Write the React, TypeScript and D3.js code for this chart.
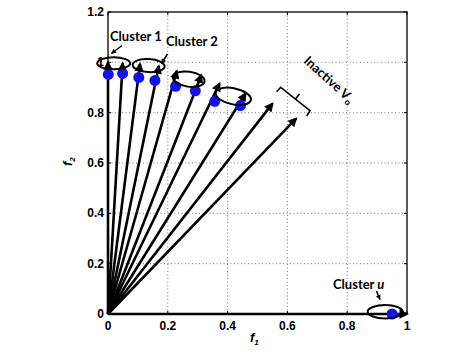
import React from 'react';
import * as d3 from 'd3';

// active reference vectors (arrow tips) and their solutions (dots)
const activeTips: [number, number][] = [
  [0.0, 1.0], [0.049, 0.996], [0.107, 0.994], [0.17, 0.985],
  [0.23, 0.965], [0.312, 0.949], [0.373, 0.916], [0.46, 0.876],
];
const activeDots: [number, number][] = [
  [0.001, 0.952], [0.049, 0.956], [0.103, 0.94], [0.157, 0.928],
  [0.226, 0.905], [0.292, 0.887], [0.357, 0.845], [0.443, 0.828],
];
const inactiveTips: [number, number][] = [[0.55, 0.836], [0.629, 0.776]];
const clusterUTip: [number, number] = [1.0, 0];
const clusterUDot: [number, number] = [0.95, 0];

const xTicks = [0, 0.2, 0.4, 0.6, 0.8, 1];
const yTicks = [0, 0.2, 0.4, 0.6, 0.8, 1, 1.2];
const gridX = [0.2, 0.4, 0.6, 0.8];
const gridY = [0.2, 0.4, 0.6, 0.8, 1.0];

// cluster ellipses: center (f1, f2), radii px, rotation
const ellipses = [
  { cx: 0.019, cy: 0.996, rx: 16.5, ry: 6, rot: 0 },
  { cx: 0.136, cy: 0.987, rx: 16, ry: 6.5, rot: 3 },
  { cx: 0.27, cy: 0.933, rx: 16, ry: 7.5, rot: 8 },
  { cx: 0.419, cy: 0.865, rx: 18, ry: 8, rot: 12 },
  { cx: 0.927, cy: 0.009, rx: 17.5, ry: 6.7, rot: 0 },
];

const W = 474;
const H = 354;

const App: React.FC = () => {
  const x = d3.scaleLinear().domain([0, 1]).range([108, 407]);
  const y = d3.scaleLinear().domain([0, 1.2]).range([314, 12]);
  const fmt = (v: number) => (v === 0 || v === 1 ? String(v) : d3.format('.1f')(v));
  const tickFont = { fontFamily: 'Liberation Sans, Arial, sans-serif', fontWeight: 700, fontSize: 12 };
  const noteFont = { fontFamily: 'Lato, Open Sans, sans-serif', fontWeight: 700, fontSize: 13 };

  const arrowLine = (tip: [number, number], key: string) => (
    <line key={key} x1={x(0)} y1={y(0)} x2={x(tip[0])} y2={y(tip[1])}
      stroke="#000" strokeWidth={2.6} markerEnd="url(#head)" />
  );

  return (
    <div style={{ position: 'absolute', left: 0, top: 0 }}>
      <svg width={W} height={H} style={{ display: 'block', background: '#fff' }}>
        <defs>
          <marker id="head" viewBox="0 0 10 10" refX="8" refY="5" markerWidth="4.2" markerHeight="3.6"
            markerUnits="strokeWidth" orient="auto">
            <path d="M0,0 L10,5 L0,10 z" fill="#000" />
          </marker>
          <marker id="small" viewBox="0 0 10 10" refX="9" refY="5" markerWidth="6" markerHeight="5"
            markerUnits="userSpaceOnUse" orient="auto">
            <path d="M0,0 L10,5 L0,10 z" fill="#000" />
          </marker>
        </defs>

        {/* grid */}
        {gridX.map(v => (
          <line key={'gx' + v} x1={x(v)} x2={x(v)} y1={y(0)} y2={y(1.2)}
            stroke="#555" strokeWidth={0.8} strokeDasharray="1,2.5" />
        ))}
        {gridY.map(v => (
          <line key={'gy' + v} x1={x(0)} x2={x(1)} y1={y(v)} y2={y(v)}
            stroke="#555" strokeWidth={0.8} strokeDasharray="1,2.5" />
        ))}

        {/* box */}
        <rect x={x(0)} y={y(1.2)} width={x(1) - x(0)} height={y(0) - y(1.2)}
          fill="none" stroke="#000" strokeWidth={1.3} />

        {/* ticks */}
        {xTicks.map(v => (
          <g key={'xt' + v}>
            <line x1={x(v)} x2={x(v)} y1={y(0)} y2={y(0) - 3} stroke="#000" />
            <line x1={x(v)} x2={x(v)} y1={y(1.2)} y2={y(1.2) + 3} stroke="#000" />
            <text x={x(v)} y={y(0) + 16} textAnchor="middle" {...tickFont}>{fmt(v)}</text>
          </g>
        ))}
        {yTicks.map(v => (
          <g key={'yt' + v}>
            <line x1={x(0)} x2={x(0) + 3} y1={y(v)} y2={y(v)} stroke="#000" />
            <line x1={x(1)} x2={x(1) - 3} y1={y(v)} y2={y(v)} stroke="#000" />
            <text x={x(0) - 4} y={y(v) + 4} textAnchor="end" {...tickFont}>{fmt(v)}</text>
          </g>
        ))}

        {/* axis labels */}
        <text x={250} y={342} fontFamily="Liberation Sans, Arial, sans-serif" fontWeight={700} fontStyle="italic" fontSize={13}>
          f<tspan fontSize={8} dy={3}>1</tspan>
        </text>
        <text transform="translate(72,166) rotate(-90)" fontFamily="Liberation Sans, Arial, sans-serif" fontWeight={700} fontStyle="italic" fontSize={13}>
          f<tspan fontSize={8} dy={3}>2</tspan>
        </text>

        {/* vectors */}
        {activeTips.map((t, i) => arrowLine(t, 'a' + i))}
        {inactiveTips.map((t, i) => arrowLine(t, 'in' + i))}
        {arrowLine(clusterUTip, 'u')}

        {/* solutions */}
        {activeDots.map((d, i) => (
          <circle key={'d' + i} cx={x(d[0])} cy={y(d[1])} r={5.5} fill="#1010f0" />
        ))}
        <circle cx={x(clusterUDot[0])} cy={y(clusterUDot[1])} r={5.5} fill="#1010f0" />

        {/* cluster ellipses */}
        {ellipses.map((e, i) => (
          <ellipse key={'e' + i} cx={0} cy={0} rx={e.rx} ry={e.ry} fill="none" stroke="#000" strokeWidth={2}
            transform={`translate(${x(e.cx)},${y(e.cy)}) rotate(${e.rot})`} />
        ))}

        {/* annotations */}
        <text x={110} y={41} {...noteFont}>Cluster 1</text>
        <line x1={122} y1={45.5} x2={111.5} y2={53.5} stroke="#000" strokeWidth={1.5} markerEnd="url(#small)" />
        <text x={166} y={46} {...noteFont}>Cluster 2</text>
        <line x1={167.5} y1={54} x2={161.5} y2={63.5} stroke="#000" strokeWidth={1.5} markerEnd="url(#small)" />

        <text x={333} y={289} {...noteFont}>Cluster <tspan fontStyle="italic">u</tspan></text>
        <line x1={376.5} y1={291} x2={380} y2={299.5} stroke="#000" strokeWidth={1.5} markerEnd="url(#small)" />

        <path d="M276.7,91.7 L280.7,87.3 L310,110.7 L306.7,116 M295.3,99.3 L299.5,94" fill="none" stroke="#000" strokeWidth={1.6} />
        <text transform="translate(303,62) rotate(42)" {...noteFont}>
          Inactive V<tspan fontSize={9} dy={3}>o</tspan>
        </text>
      </svg>
    </div>
  );
};

export default App;
